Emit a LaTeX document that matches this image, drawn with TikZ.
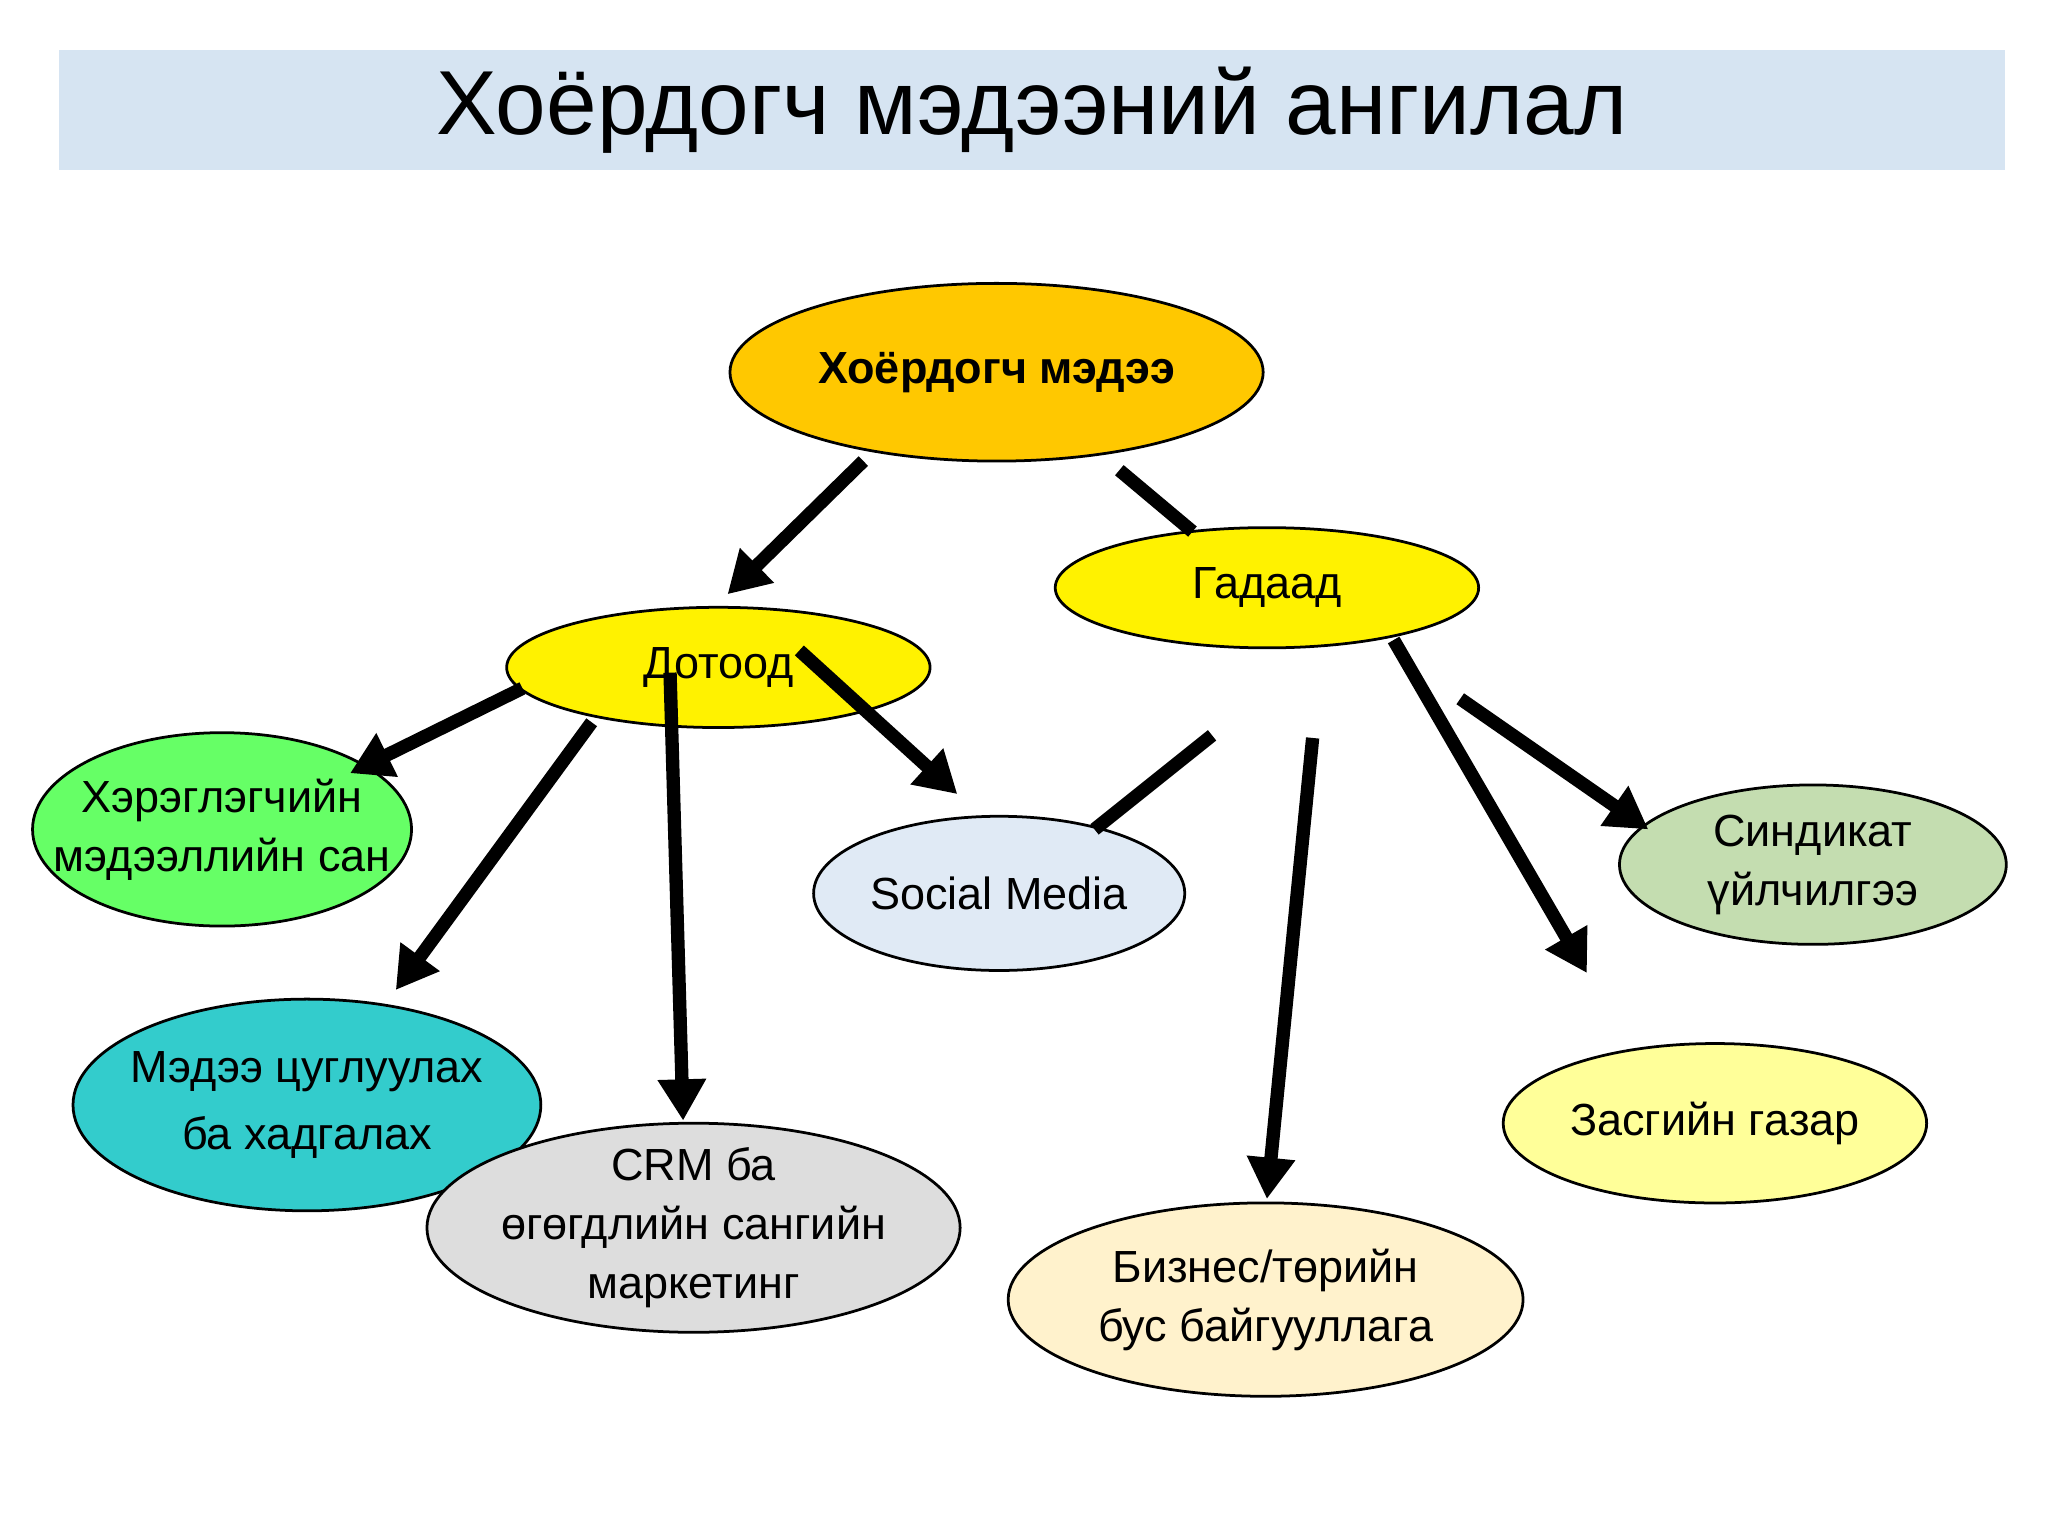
\documentclass[tikz,border=0pt]{standalone}
\usepackage{fontspec}
\setmainfont{Liberation Sans}
\usetikzlibrary{shapes.geometric,arrows.meta}
\definecolor{band}{RGB}{214,228,242}
\begin{document}
\begin{tikzpicture}[x=0.01cm,y=-0.01cm,
  el/.style={ellipse,draw=black,line width=0.6pt,inner sep=-20pt,align=center,font=\fontsize{9.8}{12.8}\selectfont},
  arr/.style={line width=2.9pt,-{Triangle[length=9pt,width=10pt]}},
  ln/.style={line width=2.9pt}]
\useasboundingbox (0,0) rectangle (1568,1176);
\fill[white] (0,0) rectangle (1568,1176);
\fill[band] (45,38) rectangle (1535,130);
\node[font=\fontsize{19.8}{24}\selectfont] (title) at (790,84) {Хоёрдогч мэдээний ангилал};
\node[el,fill={rgb,255:red,255;green,200;blue,0},minimum width=4.08cm,minimum height=1.36cm,font=\bfseries\fontsize{9.8}{12}\selectfont] (top) at (763,285) {Хоёрдогч мэдээ};
\node[el,fill=yellow,minimum width=3.24cm,minimum height=0.92cm] (gad) at (970,450) {Гадаад};
\node[el,fill=yellow,minimum width=3.24cm,minimum height=0.92cm] (dot) at (550,511) {Дотоод};
\node[el,fill={rgb,255:red,102;green,255;blue,102},minimum width=2.9cm,minimum height=1.48cm] (her) at (170,635) {Хэрэглэгчийн\\мэдээллийн сан};
\node[el,fill={rgb,255:red,224;green,234;blue,245},minimum width=2.84cm,minimum height=1.18cm] (soc) at (765,684) {Social Media};
\node[el,fill={rgb,255:red,196;green,221;blue,176},minimum width=2.96cm,minimum height=1.22cm] (syn) at (1388,662) {Синдикат\\үйлчилгээ};
\node[el,fill={rgb,255:red,51;green,204;blue,204},minimum width=3.58cm,minimum height=1.62cm,font=\fontsize{9.8}{14.5}\selectfont] (med) at (235,846) {Мэдээ цуглуулах\\ба хадгалах};
\node[el,fill={rgb,255:red,221;green,221;blue,221},minimum width=4.08cm,minimum height=1.6cm] (crm) at (531,940) {CRM ба\\өгөгдлийн сангийн\\маркетинг};
\node[el,fill={rgb,255:red,255;green,255;blue,153},minimum width=3.24cm,minimum height=1.22cm] (zas) at (1313,860) {Засгийн газар};
\node[el,fill={rgb,255:red,255;green,242;blue,204},minimum width=3.94cm,minimum height=1.48cm] (biz) at (969,995) {Бизнес/төрийн\\бус байгууллага};
% connectors
\coordinate (a1) at (661,353); \coordinate (b1) at (557,455);
\coordinate (a2) at (400,527); \coordinate (b2) at (268,592);
\coordinate (a3) at (453,553); \coordinate (b3) at (303,758);
\coordinate (a4) at (513,515); \coordinate (b4) at (523,858);
\coordinate (a5) at (612,498); \coordinate (b5) at (733,608);
\coordinate (a6) at (857,360); \coordinate (b6) at (913,407);
\coordinate (a7) at (928,563); \coordinate (b7) at (838,635);
\coordinate (a8) at (1067,490); \coordinate (b8) at (1215,745);
\coordinate (a9) at (1118,535); \coordinate (b9) at (1262,635);
\coordinate (a10) at (1005,565); \coordinate (b10) at (970,918);
\draw[arr] (a1) -- (b1);
\draw[arr] (a2) -- (b2);
\draw[arr] (a3) -- (b3);
\draw[arr] (a4) -- (b4);
\draw[arr] (a5) -- (b5);
\draw[ln] (a6) -- (b6);
\draw[ln] (a7) -- (b7);
\draw[arr] (a8) -- (b8);
\draw[arr] (a9) -- (b9);
\draw[arr] (a10) -- (b10);
\end{tikzpicture}
\end{document}
